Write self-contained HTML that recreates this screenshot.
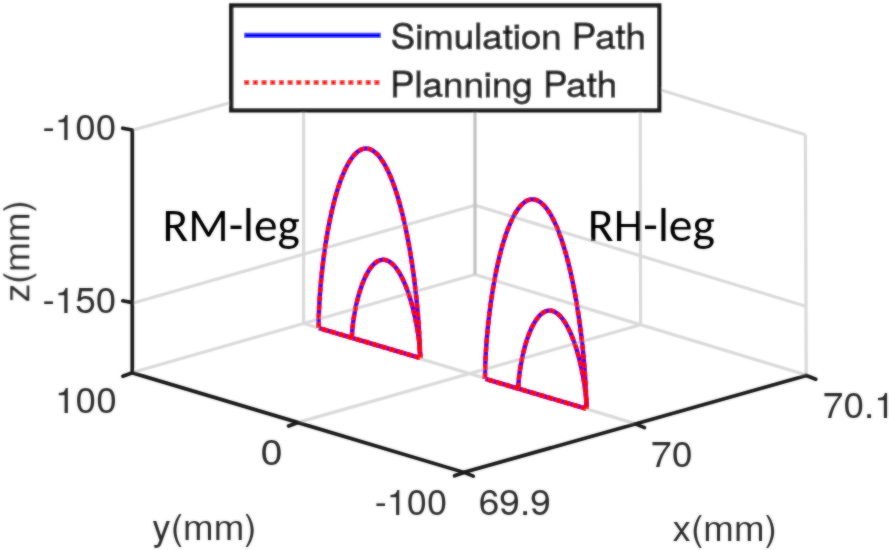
<!DOCTYPE html>
<html><head><meta charset="utf-8"><style>
html,body{margin:0;padding:0;background:#fff;}
svg{display:block;}
</style></head><body>
<svg width="889" height="550" viewBox="0 0 889 550">
<defs><filter id="bl" filterUnits="userSpaceOnUse" x="0" y="0" width="889" height="550"><feGaussianBlur in="SourceGraphic" stdDeviation="1.0" result="b"/><feComposite in="SourceGraphic" in2="b" operator="arithmetic" k1="0" k2="0.5" k3="0.5" k4="0"/></filter></defs>
<rect width="889" height="550" fill="#fff"/>
<g filter="url(#bl)">
<g>
<line x1="132.3" y1="372.5" x2="475.0" y2="274.5" stroke="#dadada" stroke-width="3.2" />
<line x1="298.1" y1="422.4" x2="640.6" y2="324.8" stroke="#dadada" stroke-width="3.2" />
<line x1="303.6" y1="323.5" x2="635.1" y2="423.6" stroke="#dadada" stroke-width="3.2" />
<line x1="475.0" y1="274.5" x2="806.2" y2="375.0" stroke="#dadada" stroke-width="3.2" />
<line x1="132.3" y1="303.2" x2="475.0" y2="205.3" stroke="#dadada" stroke-width="3.2" />
<line x1="132.3" y1="130.3" x2="475.0" y2="33.6" stroke="#dadada" stroke-width="3.2" />
<line x1="303.6" y1="323.5" x2="303.6" y2="81.2" stroke="#dadada" stroke-width="3.2" />
<line x1="475.0" y1="205.3" x2="806.0" y2="306.3" stroke="#dadada" stroke-width="3.2" />
<line x1="475.0" y1="32.4" x2="805.4" y2="134.7" stroke="#dadada" stroke-width="3.2" />
<line x1="640.6" y1="324.8" x2="640.2" y2="83.5" stroke="#dadada" stroke-width="3.2" />
<line x1="806.2" y1="375.0" x2="805.4" y2="134.7" stroke="#dadada" stroke-width="3.2" />
<line x1="475.0" y1="274.5" x2="475.0" y2="32.3" stroke="#c2c2c2" stroke-width="3.2" />
</g>
<g>
<polyline points="132.3,130.0 132.3,372.8 464.0,472.4 806.4,375.5" fill="none" stroke="#1a1a1a" stroke-width="3.7" stroke-linejoin="miter"/>
<line x1="132.3" y1="130.0" x2="122.7" y2="128.2" stroke="#1a1a1a" stroke-width="3.7" stroke-linecap="round"/>
<line x1="132.3" y1="302.6" x2="122.7" y2="300.8" stroke="#1a1a1a" stroke-width="3.7" stroke-linecap="round"/>
<line x1="132.3" y1="372.8" x2="122.8" y2="376.2" stroke="#1a1a1a" stroke-width="3.7" stroke-linecap="round"/>
<line x1="298.1" y1="422.6" x2="288.6" y2="426.0" stroke="#1a1a1a" stroke-width="3.7" stroke-linecap="round"/>
<line x1="464.0" y1="472.4" x2="454.5" y2="475.8" stroke="#1a1a1a" stroke-width="3.7" stroke-linecap="round"/>
<line x1="464.0" y1="472.4" x2="473.3" y2="476.1" stroke="#1a1a1a" stroke-width="3.7" stroke-linecap="round"/>
<line x1="635.2" y1="423.9" x2="644.5" y2="427.6" stroke="#1a1a1a" stroke-width="3.7" stroke-linecap="round"/>
<line x1="806.4" y1="375.5" x2="815.7" y2="379.2" stroke="#1a1a1a" stroke-width="3.7" stroke-linecap="round"/>
</g>
<g>
<path d="M318.50,327.95 L319.01,309.77 L319.52,300.50 L320.03,293.07 L320.54,286.66 L321.05,280.92 L321.56,275.68 L322.07,270.84 L322.58,266.31 L323.09,262.05 L323.60,258.01 L324.11,254.18 L324.62,250.52 L325.13,247.02 L325.64,243.67 L326.15,240.44 L326.66,237.34 L327.17,234.34 L327.68,231.45 L328.19,228.65 L328.70,225.95 L329.21,223.33 L329.72,220.79 L330.23,218.33 L330.74,215.94 L331.25,213.61 L331.76,211.36 L332.27,209.16 L332.78,207.03 L333.29,204.96 L333.80,202.94 L334.31,200.98 L334.82,199.06 L335.33,197.20 L335.84,195.39 L336.35,193.63 L336.86,191.91 L337.37,190.23 L337.88,188.61 L338.39,187.02 L338.90,185.47 L339.41,183.97 L339.92,182.50 L340.43,181.08 L340.94,179.69 L341.45,178.34 L341.96,177.02 L342.47,175.75 L342.98,174.50 L343.49,173.29 L344.00,172.12 L344.51,170.98 L345.02,169.87 L345.53,168.79 L346.04,167.75 L346.55,166.73 L347.06,165.75 L347.57,164.80 L348.08,163.88 L348.59,162.98 L349.10,162.12 L349.61,161.29 L350.12,160.48 L350.63,159.71 L351.14,158.96 L351.65,158.24 L352.16,157.54 L352.67,156.88 L353.18,156.24 L353.69,155.63 L354.20,155.04 L354.71,154.48 L355.22,153.95 L355.73,153.44 L356.24,152.96 L356.75,152.51 L357.26,152.08 L357.77,151.67 L358.28,151.29 L358.79,150.94 L359.30,150.61 L359.81,150.31 L360.32,150.03 L360.83,149.77 L361.34,149.54 L361.85,149.33 L362.36,149.15 L362.87,148.99 L363.38,148.86 L363.89,148.75 L364.40,148.66 L364.91,148.60 L365.42,148.56 L365.93,148.54 L366.44,148.55 L366.95,148.59 L367.46,148.64 L367.97,148.72 L368.48,148.83 L368.99,148.95 L369.50,149.10 L370.01,149.28 L370.52,149.48 L371.03,149.70 L371.54,149.94 L372.05,150.21 L372.56,150.50 L373.07,150.82 L373.58,151.16 L374.09,151.53 L374.60,151.91 L375.11,152.33 L375.62,152.76 L376.13,153.22 L376.64,153.71 L377.16,154.21 L377.67,154.75 L378.18,155.30 L378.69,155.89 L379.20,156.49 L379.71,157.12 L380.22,157.78 L380.73,158.46 L381.24,159.17 L381.75,159.90 L382.26,160.65 L382.77,161.44 L383.28,162.25 L383.79,163.08 L384.30,163.94 L384.81,164.83 L385.32,165.74 L385.83,166.68 L386.34,167.65 L386.85,168.64 L387.36,169.66 L387.87,170.71 L388.38,171.79 L388.89,172.90 L389.40,174.03 L389.91,175.20 L390.42,176.39 L390.93,177.62 L391.44,178.87 L391.95,180.15 L392.46,181.47 L392.97,182.81 L393.48,184.19 L393.99,185.60 L394.50,187.05 L395.01,188.52 L395.52,190.03 L396.03,191.58 L396.54,193.16 L397.05,194.78 L397.56,196.43 L398.07,198.12 L398.58,199.85 L399.09,201.61 L399.60,203.42 L400.11,205.26 L400.62,207.15 L401.13,209.08 L401.64,211.06 L402.15,213.08 L402.66,215.14 L403.17,217.26 L403.68,219.42 L404.19,221.63 L404.70,223.90 L405.21,226.22 L405.72,228.60 L406.23,231.03 L406.74,233.52 L407.25,236.08 L407.76,238.71 L408.27,241.40 L408.78,244.16 L409.29,247.00 L409.80,249.93 L410.31,252.93 L410.82,256.03 L411.33,259.22 L411.84,262.52 L412.35,265.93 L412.86,269.45 L413.37,273.11 L413.88,276.91 L414.39,280.87 L414.90,285.01 L415.41,289.34 L415.92,293.90 L416.43,298.73 L416.94,303.88 L417.45,309.42 L417.96,315.46 L418.47,322.17 L418.98,329.90 L419.49,339.48 L420.00,357.96" fill="none" stroke="#0000ff" stroke-width="4.4" stroke-linejoin="round"/>
<path d="M351.86,337.81 L352.21,331.19 L352.55,327.44 L352.89,324.37 L353.24,321.67 L353.58,319.22 L353.93,316.97 L354.27,314.87 L354.62,312.89 L354.96,311.02 L355.31,309.24 L355.65,307.54 L356.00,305.92 L356.34,304.36 L356.69,302.85 L357.03,301.41 L357.38,300.01 L357.72,298.66 L358.06,297.35 L358.41,296.08 L358.75,294.85 L359.10,293.66 L359.44,292.50 L359.79,291.38 L360.13,290.29 L360.48,289.22 L360.82,288.19 L361.17,287.18 L361.51,286.21 L361.86,285.25 L362.20,284.33 L362.54,283.42 L362.89,282.54 L363.23,281.68 L363.58,280.85 L363.92,280.04 L364.27,279.24 L364.61,278.47 L364.96,277.72 L365.30,276.99 L365.65,276.27 L365.99,275.58 L366.34,274.90 L366.68,274.24 L367.03,273.60 L367.37,272.98 L367.71,272.37 L368.06,271.78 L368.40,271.21 L368.75,270.66 L369.09,270.11 L369.44,269.59 L369.78,269.08 L370.13,268.59 L370.47,268.11 L370.82,267.64 L371.16,267.19 L371.51,266.76 L371.85,266.34 L372.19,265.93 L372.54,265.54 L372.88,265.16 L373.23,264.79 L373.57,264.44 L373.92,264.11 L374.26,263.78 L374.61,263.47 L374.95,263.17 L375.30,262.89 L375.64,262.62 L375.99,262.36 L376.33,262.11 L376.68,261.88 L377.02,261.66 L377.36,261.45 L377.71,261.25 L378.05,261.07 L378.40,260.90 L378.74,260.74 L379.09,260.60 L379.43,260.46 L379.78,260.34 L380.12,260.23 L380.47,260.13 L380.81,260.05 L381.16,259.97 L381.50,259.91 L381.84,259.86 L382.19,259.82 L382.53,259.80 L382.88,259.78 L383.22,259.78 L383.57,259.79 L383.91,259.81 L384.26,259.84 L384.60,259.88 L384.95,259.94 L385.29,260.00 L385.64,260.08 L385.98,260.17 L386.33,260.28 L386.67,260.39 L387.01,260.51 L387.36,260.65 L387.70,260.80 L388.05,260.96 L388.39,261.13 L388.74,261.31 L389.08,261.51 L389.43,261.72 L389.77,261.94 L390.12,262.17 L390.46,262.41 L390.81,262.66 L391.15,262.93 L391.49,263.21 L391.84,263.49 L392.18,263.80 L392.53,264.11 L392.87,264.44 L393.22,264.77 L393.56,265.12 L393.91,265.49 L394.25,265.86 L394.60,266.25 L394.94,266.65 L395.29,267.06 L395.63,267.48 L395.98,267.92 L396.32,268.37 L396.66,268.83 L397.01,269.31 L397.35,269.80 L397.70,270.30 L398.04,270.81 L398.39,271.34 L398.73,271.88 L399.08,272.44 L399.42,273.00 L399.77,273.59 L400.11,274.18 L400.46,274.79 L400.80,275.42 L401.15,276.06 L401.49,276.71 L401.83,277.38 L402.18,278.06 L402.52,278.76 L402.87,279.47 L403.21,280.20 L403.56,280.95 L403.90,281.71 L404.25,282.48 L404.59,283.28 L404.94,284.09 L405.28,284.91 L405.63,285.76 L405.97,286.62 L406.31,287.50 L406.66,288.40 L407.00,289.32 L407.35,290.25 L407.69,291.21 L408.04,292.18 L408.38,293.18 L408.73,294.20 L409.07,295.24 L409.42,296.30 L409.76,297.38 L410.11,298.49 L410.45,299.62 L410.80,300.78 L411.14,301.96 L411.48,303.17 L411.83,304.41 L412.17,305.67 L412.52,306.97 L412.86,308.30 L413.21,309.66 L413.55,311.05 L413.90,312.48 L414.24,313.96 L414.59,315.47 L414.93,317.02 L415.28,318.62 L415.62,320.28 L415.96,321.98 L416.31,323.75 L416.65,325.58 L417.00,327.48 L417.34,329.46 L417.69,331.54 L418.03,333.72 L418.38,336.02 L418.72,338.48 L419.07,341.13 L419.41,344.03 L419.76,347.31 L420.10,351.26 L420.45,358.09" fill="none" stroke="#0000ff" stroke-width="4.4" stroke-linejoin="round"/>
<path d="M419.80,357.90 L319.00,328.10" fill="none" stroke="#0000ff" stroke-width="4.4" stroke-linejoin="round"/>
<path d="M484.90,378.75 L485.41,360.57 L485.92,351.30 L486.43,343.87 L486.94,337.46 L487.45,331.72 L487.96,326.48 L488.47,321.64 L488.98,317.11 L489.49,312.85 L490.00,308.81 L490.51,304.98 L491.02,301.32 L491.53,297.82 L492.04,294.47 L492.55,291.24 L493.06,288.14 L493.57,285.14 L494.08,282.25 L494.59,279.45 L495.10,276.75 L495.61,274.13 L496.12,271.59 L496.63,269.13 L497.14,266.74 L497.65,264.41 L498.16,262.16 L498.67,259.96 L499.18,257.83 L499.69,255.76 L500.20,253.74 L500.71,251.78 L501.22,249.86 L501.73,248.00 L502.24,246.19 L502.75,244.43 L503.26,242.71 L503.77,241.03 L504.28,239.41 L504.79,237.82 L505.30,236.27 L505.81,234.77 L506.32,233.30 L506.83,231.88 L507.34,230.49 L507.85,229.14 L508.36,227.82 L508.87,226.55 L509.38,225.30 L509.89,224.09 L510.40,222.92 L510.91,221.78 L511.42,220.67 L511.93,219.59 L512.44,218.55 L512.95,217.53 L513.46,216.55 L513.97,215.60 L514.48,214.68 L514.99,213.78 L515.50,212.92 L516.01,212.09 L516.52,211.28 L517.03,210.51 L517.54,209.76 L518.05,209.04 L518.56,208.34 L519.07,207.68 L519.58,207.04 L520.09,206.43 L520.60,205.84 L521.11,205.28 L521.62,204.75 L522.13,204.24 L522.64,203.76 L523.15,203.31 L523.66,202.88 L524.17,202.47 L524.68,202.09 L525.19,201.74 L525.70,201.41 L526.21,201.11 L526.72,200.83 L527.23,200.57 L527.74,200.34 L528.25,200.13 L528.76,199.95 L529.27,199.79 L529.78,199.66 L530.29,199.55 L530.80,199.46 L531.31,199.40 L531.82,199.36 L532.33,199.34 L532.84,199.35 L533.35,199.39 L533.86,199.44 L534.37,199.52 L534.88,199.63 L535.39,199.75 L535.90,199.90 L536.41,200.08 L536.92,200.28 L537.43,200.50 L537.94,200.74 L538.45,201.01 L538.96,201.30 L539.47,201.62 L539.98,201.96 L540.49,202.33 L541.00,202.71 L541.51,203.13 L542.02,203.56 L542.53,204.02 L543.04,204.51 L543.56,205.01 L544.07,205.55 L544.58,206.10 L545.09,206.69 L545.60,207.29 L546.11,207.92 L546.62,208.58 L547.13,209.26 L547.64,209.97 L548.15,210.70 L548.66,211.45 L549.17,212.24 L549.68,213.05 L550.19,213.88 L550.70,214.74 L551.21,215.63 L551.72,216.54 L552.23,217.48 L552.74,218.45 L553.25,219.44 L553.76,220.46 L554.27,221.51 L554.78,222.59 L555.29,223.70 L555.80,224.83 L556.31,226.00 L556.82,227.19 L557.33,228.42 L557.84,229.67 L558.35,230.95 L558.86,232.27 L559.37,233.61 L559.88,234.99 L560.39,236.40 L560.90,237.85 L561.41,239.32 L561.92,240.83 L562.43,242.38 L562.94,243.96 L563.45,245.58 L563.96,247.23 L564.47,248.92 L564.98,250.65 L565.49,252.41 L566.00,254.22 L566.51,256.06 L567.02,257.95 L567.53,259.88 L568.04,261.86 L568.55,263.88 L569.06,265.94 L569.57,268.06 L570.08,270.22 L570.59,272.43 L571.10,274.70 L571.61,277.02 L572.12,279.40 L572.63,281.83 L573.14,284.32 L573.65,286.88 L574.16,289.51 L574.67,292.20 L575.18,294.96 L575.69,297.80 L576.20,300.73 L576.71,303.73 L577.22,306.83 L577.73,310.02 L578.24,313.32 L578.75,316.73 L579.26,320.25 L579.77,323.91 L580.28,327.71 L580.79,331.67 L581.30,335.81 L581.81,340.14 L582.32,344.70 L582.83,349.53 L583.34,354.68 L583.85,360.22 L584.36,366.26 L584.87,372.97 L585.38,380.70 L585.89,390.28 L586.40,408.76" fill="none" stroke="#0000ff" stroke-width="4.4" stroke-linejoin="round"/>
<path d="M518.26,388.61 L518.61,381.99 L518.95,378.24 L519.29,375.17 L519.64,372.47 L519.98,370.02 L520.33,367.77 L520.67,365.67 L521.02,363.69 L521.36,361.82 L521.71,360.04 L522.05,358.34 L522.40,356.72 L522.74,355.16 L523.09,353.65 L523.43,352.21 L523.78,350.81 L524.12,349.46 L524.46,348.15 L524.81,346.88 L525.15,345.65 L525.50,344.46 L525.84,343.30 L526.19,342.18 L526.53,341.09 L526.88,340.02 L527.22,338.99 L527.57,337.98 L527.91,337.01 L528.26,336.05 L528.60,335.13 L528.94,334.22 L529.29,333.34 L529.63,332.48 L529.98,331.65 L530.32,330.84 L530.67,330.04 L531.01,329.27 L531.36,328.52 L531.70,327.79 L532.05,327.07 L532.39,326.38 L532.74,325.70 L533.08,325.04 L533.43,324.40 L533.77,323.78 L534.11,323.17 L534.46,322.58 L534.80,322.01 L535.15,321.46 L535.49,320.91 L535.84,320.39 L536.18,319.88 L536.53,319.39 L536.87,318.91 L537.22,318.44 L537.56,317.99 L537.91,317.56 L538.25,317.14 L538.59,316.73 L538.94,316.34 L539.28,315.96 L539.63,315.59 L539.97,315.24 L540.32,314.91 L540.66,314.58 L541.01,314.27 L541.35,313.97 L541.70,313.69 L542.04,313.42 L542.39,313.16 L542.73,312.91 L543.08,312.68 L543.42,312.46 L543.76,312.25 L544.11,312.05 L544.45,311.87 L544.80,311.70 L545.14,311.54 L545.49,311.40 L545.83,311.26 L546.18,311.14 L546.52,311.03 L546.87,310.93 L547.21,310.85 L547.56,310.77 L547.90,310.71 L548.24,310.66 L548.59,310.62 L548.93,310.60 L549.28,310.58 L549.62,310.58 L549.97,310.59 L550.31,310.61 L550.66,310.64 L551.00,310.68 L551.35,310.74 L551.69,310.80 L552.04,310.88 L552.38,310.97 L552.73,311.08 L553.07,311.19 L553.41,311.31 L553.76,311.45 L554.10,311.60 L554.45,311.76 L554.79,311.93 L555.14,312.11 L555.48,312.31 L555.83,312.52 L556.17,312.74 L556.52,312.97 L556.86,313.21 L557.21,313.46 L557.55,313.73 L557.89,314.01 L558.24,314.29 L558.58,314.60 L558.93,314.91 L559.27,315.24 L559.62,315.57 L559.96,315.92 L560.31,316.29 L560.65,316.66 L561.00,317.05 L561.34,317.45 L561.69,317.86 L562.03,318.28 L562.38,318.72 L562.72,319.17 L563.06,319.63 L563.41,320.11 L563.75,320.60 L564.10,321.10 L564.44,321.61 L564.79,322.14 L565.13,322.68 L565.48,323.24 L565.82,323.80 L566.17,324.39 L566.51,324.98 L566.86,325.59 L567.20,326.22 L567.55,326.86 L567.89,327.51 L568.23,328.18 L568.58,328.86 L568.92,329.56 L569.27,330.27 L569.61,331.00 L569.96,331.75 L570.30,332.51 L570.65,333.28 L570.99,334.08 L571.34,334.89 L571.68,335.71 L572.03,336.56 L572.37,337.42 L572.71,338.30 L573.06,339.20 L573.40,340.12 L573.75,341.05 L574.09,342.01 L574.44,342.98 L574.78,343.98 L575.13,345.00 L575.47,346.04 L575.82,347.10 L576.16,348.18 L576.51,349.29 L576.85,350.42 L577.20,351.58 L577.54,352.76 L577.88,353.97 L578.23,355.21 L578.57,356.47 L578.92,357.77 L579.26,359.10 L579.61,360.46 L579.95,361.85 L580.30,363.28 L580.64,364.76 L580.99,366.27 L581.33,367.82 L581.68,369.42 L582.02,371.08 L582.36,372.78 L582.71,374.55 L583.05,376.38 L583.40,378.28 L583.74,380.26 L584.09,382.34 L584.43,384.52 L584.78,386.82 L585.12,389.28 L585.47,391.93 L585.81,394.83 L586.16,398.11 L586.50,402.06 L586.85,408.89" fill="none" stroke="#0000ff" stroke-width="4.4" stroke-linejoin="round"/>
<path d="M586.20,408.70 L485.40,378.90" fill="none" stroke="#0000ff" stroke-width="4.4" stroke-linejoin="round"/>
<path d="M318.50,327.95 L319.01,309.77 L319.52,300.50 L320.03,293.07 L320.54,286.66 L321.05,280.92 L321.56,275.68 L322.07,270.84 L322.58,266.31 L323.09,262.05 L323.60,258.01 L324.11,254.18 L324.62,250.52 L325.13,247.02 L325.64,243.67 L326.15,240.44 L326.66,237.34 L327.17,234.34 L327.68,231.45 L328.19,228.65 L328.70,225.95 L329.21,223.33 L329.72,220.79 L330.23,218.33 L330.74,215.94 L331.25,213.61 L331.76,211.36 L332.27,209.16 L332.78,207.03 L333.29,204.96 L333.80,202.94 L334.31,200.98 L334.82,199.06 L335.33,197.20 L335.84,195.39 L336.35,193.63 L336.86,191.91 L337.37,190.23 L337.88,188.61 L338.39,187.02 L338.90,185.47 L339.41,183.97 L339.92,182.50 L340.43,181.08 L340.94,179.69 L341.45,178.34 L341.96,177.02 L342.47,175.75 L342.98,174.50 L343.49,173.29 L344.00,172.12 L344.51,170.98 L345.02,169.87 L345.53,168.79 L346.04,167.75 L346.55,166.73 L347.06,165.75 L347.57,164.80 L348.08,163.88 L348.59,162.98 L349.10,162.12 L349.61,161.29 L350.12,160.48 L350.63,159.71 L351.14,158.96 L351.65,158.24 L352.16,157.54 L352.67,156.88 L353.18,156.24 L353.69,155.63 L354.20,155.04 L354.71,154.48 L355.22,153.95 L355.73,153.44 L356.24,152.96 L356.75,152.51 L357.26,152.08 L357.77,151.67 L358.28,151.29 L358.79,150.94 L359.30,150.61 L359.81,150.31 L360.32,150.03 L360.83,149.77 L361.34,149.54 L361.85,149.33 L362.36,149.15 L362.87,148.99 L363.38,148.86 L363.89,148.75 L364.40,148.66 L364.91,148.60 L365.42,148.56 L365.93,148.54 L366.44,148.55 L366.95,148.59 L367.46,148.64 L367.97,148.72 L368.48,148.83 L368.99,148.95 L369.50,149.10 L370.01,149.28 L370.52,149.48 L371.03,149.70 L371.54,149.94 L372.05,150.21 L372.56,150.50 L373.07,150.82 L373.58,151.16 L374.09,151.53 L374.60,151.91 L375.11,152.33 L375.62,152.76 L376.13,153.22 L376.64,153.71 L377.16,154.21 L377.67,154.75 L378.18,155.30 L378.69,155.89 L379.20,156.49 L379.71,157.12 L380.22,157.78 L380.73,158.46 L381.24,159.17 L381.75,159.90 L382.26,160.65 L382.77,161.44 L383.28,162.25 L383.79,163.08 L384.30,163.94 L384.81,164.83 L385.32,165.74 L385.83,166.68 L386.34,167.65 L386.85,168.64 L387.36,169.66 L387.87,170.71 L388.38,171.79 L388.89,172.90 L389.40,174.03 L389.91,175.20 L390.42,176.39 L390.93,177.62 L391.44,178.87 L391.95,180.15 L392.46,181.47 L392.97,182.81 L393.48,184.19 L393.99,185.60 L394.50,187.05 L395.01,188.52 L395.52,190.03 L396.03,191.58 L396.54,193.16 L397.05,194.78 L397.56,196.43 L398.07,198.12 L398.58,199.85 L399.09,201.61 L399.60,203.42 L400.11,205.26 L400.62,207.15 L401.13,209.08 L401.64,211.06 L402.15,213.08 L402.66,215.14 L403.17,217.26 L403.68,219.42 L404.19,221.63 L404.70,223.90 L405.21,226.22 L405.72,228.60 L406.23,231.03 L406.74,233.52 L407.25,236.08 L407.76,238.71 L408.27,241.40 L408.78,244.16 L409.29,247.00 L409.80,249.93 L410.31,252.93 L410.82,256.03 L411.33,259.22 L411.84,262.52 L412.35,265.93 L412.86,269.45 L413.37,273.11 L413.88,276.91 L414.39,280.87 L414.90,285.01 L415.41,289.34 L415.92,293.90 L416.43,298.73 L416.94,303.88 L417.45,309.42 L417.96,315.46 L418.47,322.17 L418.98,329.90 L419.49,339.48 L420.00,357.96" fill="none" stroke="#ff0000" stroke-width="4.4" stroke-dasharray="6 2.8" stroke-linejoin="round"/>
<path d="M351.86,337.81 L352.21,331.19 L352.55,327.44 L352.89,324.37 L353.24,321.67 L353.58,319.22 L353.93,316.97 L354.27,314.87 L354.62,312.89 L354.96,311.02 L355.31,309.24 L355.65,307.54 L356.00,305.92 L356.34,304.36 L356.69,302.85 L357.03,301.41 L357.38,300.01 L357.72,298.66 L358.06,297.35 L358.41,296.08 L358.75,294.85 L359.10,293.66 L359.44,292.50 L359.79,291.38 L360.13,290.29 L360.48,289.22 L360.82,288.19 L361.17,287.18 L361.51,286.21 L361.86,285.25 L362.20,284.33 L362.54,283.42 L362.89,282.54 L363.23,281.68 L363.58,280.85 L363.92,280.04 L364.27,279.24 L364.61,278.47 L364.96,277.72 L365.30,276.99 L365.65,276.27 L365.99,275.58 L366.34,274.90 L366.68,274.24 L367.03,273.60 L367.37,272.98 L367.71,272.37 L368.06,271.78 L368.40,271.21 L368.75,270.66 L369.09,270.11 L369.44,269.59 L369.78,269.08 L370.13,268.59 L370.47,268.11 L370.82,267.64 L371.16,267.19 L371.51,266.76 L371.85,266.34 L372.19,265.93 L372.54,265.54 L372.88,265.16 L373.23,264.79 L373.57,264.44 L373.92,264.11 L374.26,263.78 L374.61,263.47 L374.95,263.17 L375.30,262.89 L375.64,262.62 L375.99,262.36 L376.33,262.11 L376.68,261.88 L377.02,261.66 L377.36,261.45 L377.71,261.25 L378.05,261.07 L378.40,260.90 L378.74,260.74 L379.09,260.60 L379.43,260.46 L379.78,260.34 L380.12,260.23 L380.47,260.13 L380.81,260.05 L381.16,259.97 L381.50,259.91 L381.84,259.86 L382.19,259.82 L382.53,259.80 L382.88,259.78 L383.22,259.78 L383.57,259.79 L383.91,259.81 L384.26,259.84 L384.60,259.88 L384.95,259.94 L385.29,260.00 L385.64,260.08 L385.98,260.17 L386.33,260.28 L386.67,260.39 L387.01,260.51 L387.36,260.65 L387.70,260.80 L388.05,260.96 L388.39,261.13 L388.74,261.31 L389.08,261.51 L389.43,261.72 L389.77,261.94 L390.12,262.17 L390.46,262.41 L390.81,262.66 L391.15,262.93 L391.49,263.21 L391.84,263.49 L392.18,263.80 L392.53,264.11 L392.87,264.44 L393.22,264.77 L393.56,265.12 L393.91,265.49 L394.25,265.86 L394.60,266.25 L394.94,266.65 L395.29,267.06 L395.63,267.48 L395.98,267.92 L396.32,268.37 L396.66,268.83 L397.01,269.31 L397.35,269.80 L397.70,270.30 L398.04,270.81 L398.39,271.34 L398.73,271.88 L399.08,272.44 L399.42,273.00 L399.77,273.59 L400.11,274.18 L400.46,274.79 L400.80,275.42 L401.15,276.06 L401.49,276.71 L401.83,277.38 L402.18,278.06 L402.52,278.76 L402.87,279.47 L403.21,280.20 L403.56,280.95 L403.90,281.71 L404.25,282.48 L404.59,283.28 L404.94,284.09 L405.28,284.91 L405.63,285.76 L405.97,286.62 L406.31,287.50 L406.66,288.40 L407.00,289.32 L407.35,290.25 L407.69,291.21 L408.04,292.18 L408.38,293.18 L408.73,294.20 L409.07,295.24 L409.42,296.30 L409.76,297.38 L410.11,298.49 L410.45,299.62 L410.80,300.78 L411.14,301.96 L411.48,303.17 L411.83,304.41 L412.17,305.67 L412.52,306.97 L412.86,308.30 L413.21,309.66 L413.55,311.05 L413.90,312.48 L414.24,313.96 L414.59,315.47 L414.93,317.02 L415.28,318.62 L415.62,320.28 L415.96,321.98 L416.31,323.75 L416.65,325.58 L417.00,327.48 L417.34,329.46 L417.69,331.54 L418.03,333.72 L418.38,336.02 L418.72,338.48 L419.07,341.13 L419.41,344.03 L419.76,347.31 L420.10,351.26 L420.45,358.09" fill="none" stroke="#ff0000" stroke-width="4.4" stroke-dasharray="6 2.8" stroke-linejoin="round"/>
<path d="M419.80,357.90 L319.00,328.10" fill="none" stroke="#ff0000" stroke-width="4.4" stroke-dasharray="6 2.8" stroke-linejoin="round"/>
<path d="M484.90,378.75 L485.41,360.57 L485.92,351.30 L486.43,343.87 L486.94,337.46 L487.45,331.72 L487.96,326.48 L488.47,321.64 L488.98,317.11 L489.49,312.85 L490.00,308.81 L490.51,304.98 L491.02,301.32 L491.53,297.82 L492.04,294.47 L492.55,291.24 L493.06,288.14 L493.57,285.14 L494.08,282.25 L494.59,279.45 L495.10,276.75 L495.61,274.13 L496.12,271.59 L496.63,269.13 L497.14,266.74 L497.65,264.41 L498.16,262.16 L498.67,259.96 L499.18,257.83 L499.69,255.76 L500.20,253.74 L500.71,251.78 L501.22,249.86 L501.73,248.00 L502.24,246.19 L502.75,244.43 L503.26,242.71 L503.77,241.03 L504.28,239.41 L504.79,237.82 L505.30,236.27 L505.81,234.77 L506.32,233.30 L506.83,231.88 L507.34,230.49 L507.85,229.14 L508.36,227.82 L508.87,226.55 L509.38,225.30 L509.89,224.09 L510.40,222.92 L510.91,221.78 L511.42,220.67 L511.93,219.59 L512.44,218.55 L512.95,217.53 L513.46,216.55 L513.97,215.60 L514.48,214.68 L514.99,213.78 L515.50,212.92 L516.01,212.09 L516.52,211.28 L517.03,210.51 L517.54,209.76 L518.05,209.04 L518.56,208.34 L519.07,207.68 L519.58,207.04 L520.09,206.43 L520.60,205.84 L521.11,205.28 L521.62,204.75 L522.13,204.24 L522.64,203.76 L523.15,203.31 L523.66,202.88 L524.17,202.47 L524.68,202.09 L525.19,201.74 L525.70,201.41 L526.21,201.11 L526.72,200.83 L527.23,200.57 L527.74,200.34 L528.25,200.13 L528.76,199.95 L529.27,199.79 L529.78,199.66 L530.29,199.55 L530.80,199.46 L531.31,199.40 L531.82,199.36 L532.33,199.34 L532.84,199.35 L533.35,199.39 L533.86,199.44 L534.37,199.52 L534.88,199.63 L535.39,199.75 L535.90,199.90 L536.41,200.08 L536.92,200.28 L537.43,200.50 L537.94,200.74 L538.45,201.01 L538.96,201.30 L539.47,201.62 L539.98,201.96 L540.49,202.33 L541.00,202.71 L541.51,203.13 L542.02,203.56 L542.53,204.02 L543.04,204.51 L543.56,205.01 L544.07,205.55 L544.58,206.10 L545.09,206.69 L545.60,207.29 L546.11,207.92 L546.62,208.58 L547.13,209.26 L547.64,209.97 L548.15,210.70 L548.66,211.45 L549.17,212.24 L549.68,213.05 L550.19,213.88 L550.70,214.74 L551.21,215.63 L551.72,216.54 L552.23,217.48 L552.74,218.45 L553.25,219.44 L553.76,220.46 L554.27,221.51 L554.78,222.59 L555.29,223.70 L555.80,224.83 L556.31,226.00 L556.82,227.19 L557.33,228.42 L557.84,229.67 L558.35,230.95 L558.86,232.27 L559.37,233.61 L559.88,234.99 L560.39,236.40 L560.90,237.85 L561.41,239.32 L561.92,240.83 L562.43,242.38 L562.94,243.96 L563.45,245.58 L563.96,247.23 L564.47,248.92 L564.98,250.65 L565.49,252.41 L566.00,254.22 L566.51,256.06 L567.02,257.95 L567.53,259.88 L568.04,261.86 L568.55,263.88 L569.06,265.94 L569.57,268.06 L570.08,270.22 L570.59,272.43 L571.10,274.70 L571.61,277.02 L572.12,279.40 L572.63,281.83 L573.14,284.32 L573.65,286.88 L574.16,289.51 L574.67,292.20 L575.18,294.96 L575.69,297.80 L576.20,300.73 L576.71,303.73 L577.22,306.83 L577.73,310.02 L578.24,313.32 L578.75,316.73 L579.26,320.25 L579.77,323.91 L580.28,327.71 L580.79,331.67 L581.30,335.81 L581.81,340.14 L582.32,344.70 L582.83,349.53 L583.34,354.68 L583.85,360.22 L584.36,366.26 L584.87,372.97 L585.38,380.70 L585.89,390.28 L586.40,408.76" fill="none" stroke="#ff0000" stroke-width="4.4" stroke-dasharray="6 2.8" stroke-linejoin="round"/>
<path d="M518.26,388.61 L518.61,381.99 L518.95,378.24 L519.29,375.17 L519.64,372.47 L519.98,370.02 L520.33,367.77 L520.67,365.67 L521.02,363.69 L521.36,361.82 L521.71,360.04 L522.05,358.34 L522.40,356.72 L522.74,355.16 L523.09,353.65 L523.43,352.21 L523.78,350.81 L524.12,349.46 L524.46,348.15 L524.81,346.88 L525.15,345.65 L525.50,344.46 L525.84,343.30 L526.19,342.18 L526.53,341.09 L526.88,340.02 L527.22,338.99 L527.57,337.98 L527.91,337.01 L528.26,336.05 L528.60,335.13 L528.94,334.22 L529.29,333.34 L529.63,332.48 L529.98,331.65 L530.32,330.84 L530.67,330.04 L531.01,329.27 L531.36,328.52 L531.70,327.79 L532.05,327.07 L532.39,326.38 L532.74,325.70 L533.08,325.04 L533.43,324.40 L533.77,323.78 L534.11,323.17 L534.46,322.58 L534.80,322.01 L535.15,321.46 L535.49,320.91 L535.84,320.39 L536.18,319.88 L536.53,319.39 L536.87,318.91 L537.22,318.44 L537.56,317.99 L537.91,317.56 L538.25,317.14 L538.59,316.73 L538.94,316.34 L539.28,315.96 L539.63,315.59 L539.97,315.24 L540.32,314.91 L540.66,314.58 L541.01,314.27 L541.35,313.97 L541.70,313.69 L542.04,313.42 L542.39,313.16 L542.73,312.91 L543.08,312.68 L543.42,312.46 L543.76,312.25 L544.11,312.05 L544.45,311.87 L544.80,311.70 L545.14,311.54 L545.49,311.40 L545.83,311.26 L546.18,311.14 L546.52,311.03 L546.87,310.93 L547.21,310.85 L547.56,310.77 L547.90,310.71 L548.24,310.66 L548.59,310.62 L548.93,310.60 L549.28,310.58 L549.62,310.58 L549.97,310.59 L550.31,310.61 L550.66,310.64 L551.00,310.68 L551.35,310.74 L551.69,310.80 L552.04,310.88 L552.38,310.97 L552.73,311.08 L553.07,311.19 L553.41,311.31 L553.76,311.45 L554.10,311.60 L554.45,311.76 L554.79,311.93 L555.14,312.11 L555.48,312.31 L555.83,312.52 L556.17,312.74 L556.52,312.97 L556.86,313.21 L557.21,313.46 L557.55,313.73 L557.89,314.01 L558.24,314.29 L558.58,314.60 L558.93,314.91 L559.27,315.24 L559.62,315.57 L559.96,315.92 L560.31,316.29 L560.65,316.66 L561.00,317.05 L561.34,317.45 L561.69,317.86 L562.03,318.28 L562.38,318.72 L562.72,319.17 L563.06,319.63 L563.41,320.11 L563.75,320.60 L564.10,321.10 L564.44,321.61 L564.79,322.14 L565.13,322.68 L565.48,323.24 L565.82,323.80 L566.17,324.39 L566.51,324.98 L566.86,325.59 L567.20,326.22 L567.55,326.86 L567.89,327.51 L568.23,328.18 L568.58,328.86 L568.92,329.56 L569.27,330.27 L569.61,331.00 L569.96,331.75 L570.30,332.51 L570.65,333.28 L570.99,334.08 L571.34,334.89 L571.68,335.71 L572.03,336.56 L572.37,337.42 L572.71,338.30 L573.06,339.20 L573.40,340.12 L573.75,341.05 L574.09,342.01 L574.44,342.98 L574.78,343.98 L575.13,345.00 L575.47,346.04 L575.82,347.10 L576.16,348.18 L576.51,349.29 L576.85,350.42 L577.20,351.58 L577.54,352.76 L577.88,353.97 L578.23,355.21 L578.57,356.47 L578.92,357.77 L579.26,359.10 L579.61,360.46 L579.95,361.85 L580.30,363.28 L580.64,364.76 L580.99,366.27 L581.33,367.82 L581.68,369.42 L582.02,371.08 L582.36,372.78 L582.71,374.55 L583.05,376.38 L583.40,378.28 L583.74,380.26 L584.09,382.34 L584.43,384.52 L584.78,386.82 L585.12,389.28 L585.47,391.93 L585.81,394.83 L586.16,398.11 L586.50,402.06 L586.85,408.89" fill="none" stroke="#ff0000" stroke-width="4.4" stroke-dasharray="6 2.8" stroke-linejoin="round"/>
<path d="M586.20,408.70 L485.40,378.90" fill="none" stroke="#ff0000" stroke-width="4.4" stroke-dasharray="6 2.8" stroke-linejoin="round"/>
<path d="M419.80,357.90 L319.00,328.10" fill="none" stroke="#ff0000" stroke-width="4.4" stroke-dasharray="6 2.8" stroke-dashoffset="1.2"/>
<path d="M586.20,408.70 L485.40,378.90" fill="none" stroke="#ff0000" stroke-width="4.4" stroke-dasharray="6 2.8" stroke-dashoffset="1.2"/>

</g>
<text x="42.44" y="140.35" textLength="73.84" lengthAdjust="spacingAndGlyphs" font-family="'TeX Gyre Heros', 'Liberation Sans', Arial, Helvetica, sans-serif" font-size="36.40" fill="#2e2e2e">-100</text>
<text x="42.44" y="313.15" textLength="73.84" lengthAdjust="spacingAndGlyphs" font-family="'TeX Gyre Heros', 'Liberation Sans', Arial, Helvetica, sans-serif" font-size="36.40" fill="#2e2e2e">-150</text>
<text x="55.00" y="413.10" textLength="61.78" lengthAdjust="spacingAndGlyphs" font-family="'TeX Gyre Heros', 'Liberation Sans', Arial, Helvetica, sans-serif" font-size="36.40" fill="#2e2e2e">100</text>
<text x="260.50" y="464.60" textLength="22.24" lengthAdjust="spacingAndGlyphs" font-family="'TeX Gyre Heros', 'Liberation Sans', Arial, Helvetica, sans-serif" font-size="36.40" fill="#2e2e2e">0</text>
<text x="374.67" y="514.60" textLength="72.37" lengthAdjust="spacingAndGlyphs" font-family="'TeX Gyre Heros', 'Liberation Sans', Arial, Helvetica, sans-serif" font-size="36.40" fill="#2e2e2e">-100</text>
<text x="478.84" y="515.05" textLength="71.86" lengthAdjust="spacingAndGlyphs" font-family="'TeX Gyre Heros', 'Liberation Sans', Arial, Helvetica, sans-serif" font-size="36.40" fill="#2e2e2e">69.9</text>
<text x="650.81" y="466.95" textLength="41.86" lengthAdjust="spacingAndGlyphs" font-family="'TeX Gyre Heros', 'Liberation Sans', Arial, Helvetica, sans-serif" font-size="36.40" fill="#2e2e2e">70</text>
<text x="822.83" y="417.65" textLength="72.08" lengthAdjust="spacingAndGlyphs" font-family="'TeX Gyre Heros', 'Liberation Sans', Arial, Helvetica, sans-serif" font-size="36.40" fill="#2e2e2e">70.1</text>
<text x="152.26" y="540.04" textLength="104.38" lengthAdjust="spacingAndGlyphs" font-family="'TeX Gyre Heros', 'Liberation Sans', Arial, Helvetica, sans-serif" font-size="35.30" fill="#2e2e2e">y(mm)</text>
<text x="672.56" y="541.03" textLength="104.38" lengthAdjust="spacingAndGlyphs" font-family="'TeX Gyre Heros', 'Liberation Sans', Arial, Helvetica, sans-serif" font-size="35.30" fill="#2e2e2e">x(mm)</text>
<text transform="translate(29.27,301.88) rotate(-90)" x="0" y="0" textLength="101.64" lengthAdjust="spacingAndGlyphs" font-family="'TeX Gyre Heros', 'Liberation Sans', Arial, Helvetica, sans-serif" font-size="35.30" fill="#2e2e2e">z(mm)</text>
<text x="162.49" y="241.11" textLength="137.31" lengthAdjust="spacingAndGlyphs" font-family="Carlito, Calibri, 'Liberation Sans', sans-serif" font-size="46.50" fill="#000">RM-leg</text>
<text x="587.87" y="241.11" textLength="127.08" lengthAdjust="spacingAndGlyphs" font-family="Carlito, Calibri, 'Liberation Sans', sans-serif" font-size="46.50" fill="#000">RH-leg</text>
<rect x="231.3" y="5.5" width="427.9" height="104.8" fill="#fff" stroke="#1a1a1a" stroke-width="4.4"/>
<line x1="244.2" y1="35.4" x2="381" y2="35.4" stroke="#0000ff" stroke-width="5.2"/>
<line x1="244.2" y1="82.4" x2="380" y2="82.4" stroke="#ff0000" stroke-width="5" stroke-dasharray="5 3.68"/>
<text x="390.77" y="48.61" textLength="255.12" lengthAdjust="spacingAndGlyphs" font-family="'TeX Gyre Heros', 'Liberation Sans', Arial, Helvetica, sans-serif" font-size="35.00" fill="#111111" stroke="#111111" stroke-width="0.8">Simulation Path</text>
<text x="390.00" y="96.92" textLength="227.16" lengthAdjust="spacingAndGlyphs" font-family="'TeX Gyre Heros', 'Liberation Sans', Arial, Helvetica, sans-serif" font-size="35.00" fill="#111111" stroke="#111111" stroke-width="0.8">Planning Path</text>
</g>
</svg>
</body></html>
